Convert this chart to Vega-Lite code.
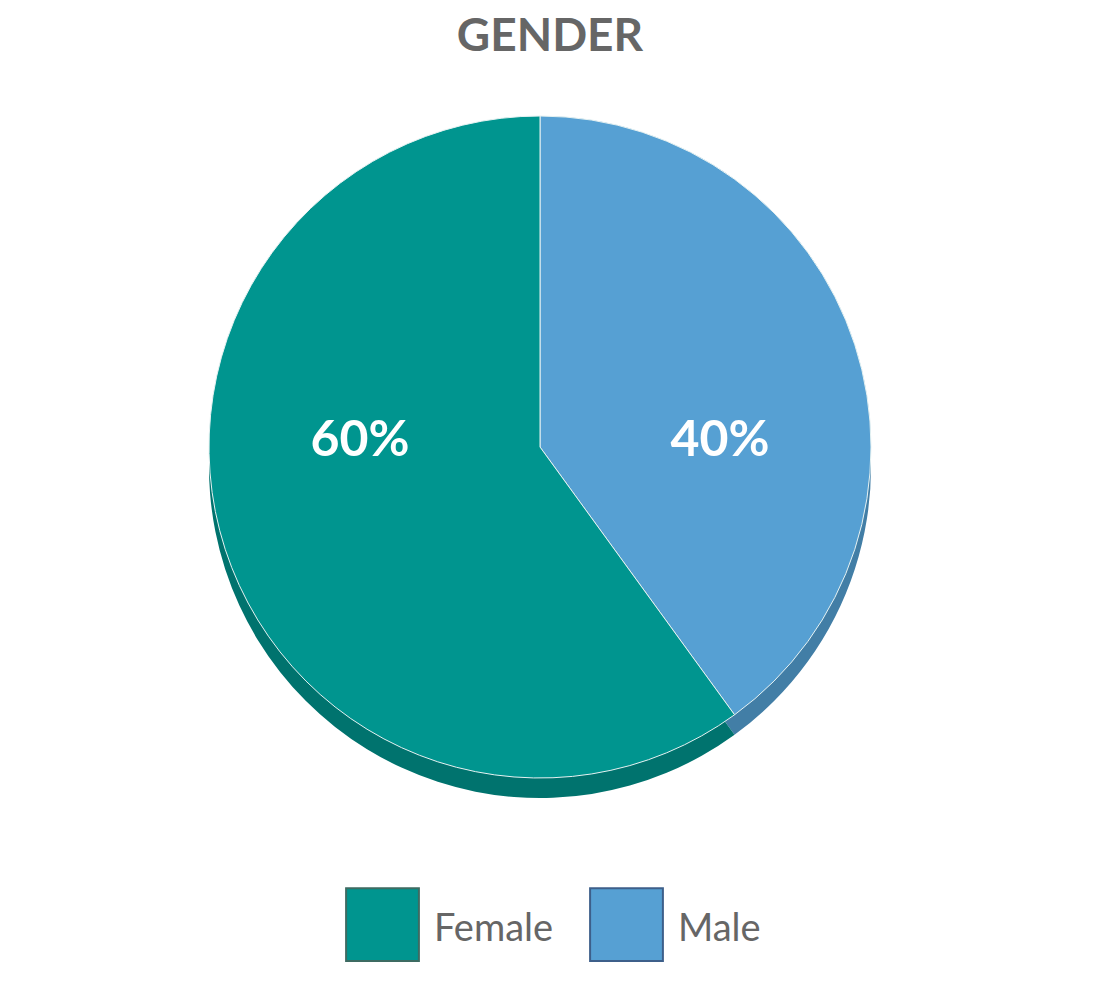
{
  "$schema": "https://vega.github.io/schema/vega-lite/v6.json",
  "width": 1080,
  "height": 736,
  "padding": {"top": 14, "left": 0, "right": 0, "bottom": 0},
  "background": "white",
  "title": {
    "text": "GENDER",
    "fontSize": 46,
    "font": "Lato",
    "fontWeight": "bold",
    "color": "#666666",
    "anchor": "middle",
    "dx": 10,
    "offset": 18
  },
  "data": {
    "values": [
      {"gender": "Male", "pct": 40, "ord": 1, "label": "40%"},
      {"gender": "Female", "pct": 60, "ord": 2, "label": "60%"}
    ]
  },
  "config": {"view": {"stroke": null}},
  "layer": [
    {
      "mark": {"type": "arc", "outerRadius": 331, "yOffset": 20},
      "encoding": {
        "theta": {"field": "pct", "type": "quantitative", "stack": true},
        "order": {"field": "ord", "type": "quantitative"},
        "color": {
          "field": "gender",
          "type": "nominal",
          "scale": {"domain": ["Female", "Male"], "range": ["#00736E", "#427EA6"]},
          "legend": null
        }
      }
    },
    {
      "mark": {"type": "arc", "outerRadius": 331, "stroke": "#e6f2f2", "strokeWidth": 1},
      "encoding": {
        "theta": {"field": "pct", "type": "quantitative", "stack": true},
        "order": {"field": "ord", "type": "quantitative"},
        "color": {
          "field": "gender",
          "type": "nominal",
          "scale": {"domain": ["Female", "Male"], "range": ["#00958F", "#56A0D3"]},
          "legend": {
            "title": null,
            "orient": "none",
            "direction": "horizontal",
            "legendX": 345,
            "legendY": 808,
            "symbolType": "square",
            "symbolSize": 5300,
            "symbolStrokeWidth": 2,
            "symbolOpacity": 1,
            "labelFontSize": 38,
            "labelFont": "Lato",
            "labelColor": "#666666",
            "labelOffset": 14,
            "columnPadding": 32,
            "symbolStrokeColor": "#3f5f6a",
            "encode": {
              "symbols": {"update": {"stroke": {"signal": "datum.value === 'Female' ? '#3d6b62' : '#3d5f8a'"}}},
              "labels": {"update": {"dy": {"value": 5}}}
            }
          }
        }
      }
    },
    {
      "mark": {"type": "text", "font": "Lato", "fontWeight": "bold", "fontSize": 50, "color": "white", "baseline": "middle", "dy": -6},
      "encoding": {
        "x": {"field": "gender", "type": "nominal", "scale": {"type": "point", "domain": ["Female", "Male"], "padding": 1.0}, "axis": null},
        "text": {"field": "label", "type": "nominal"}
      }
    }
  ],
  "resolve": {"scale": {"color": "independent", "x": "independent"}}
}
